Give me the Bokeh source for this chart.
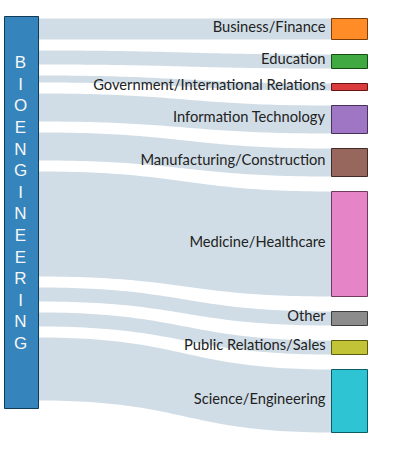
import numpy as np
from bokeh.plotting import figure
from bokeh.models import Range1d
from bokeh.embed import file_html
from bokeh.resources import INLINE
from bokeh.core.properties import value

# ---- data ----
source_name = "BIOENGINEERING"
targets = ["Business/Finance", "Education", "Government/International Relations",
           "Information Technology", "Manufacturing/Construction", "Medicine/Healthcare",
           "Other", "Public Relations/Sales", "Science/Engineering"]
counts = [3, 2, 1, 4, 4, 15, 2, 2, 9]
target_colors = ["#ff7f0e", "#2ca02c", "#d62728", "#9467bd", "#8c564b",
                 "#e377c2", "#7f7f7f", "#bcbd22", "#17becf"]
source_color = "#1f77b4"

# ---- layout parameters (pixels) ----
W, H = 387, 444
PAGE_X0, PAGE_Y0 = 0, 0
K = 7.0
RIGHT_TOP, RIGHT_GAP = 18.0, 15.0
LEFT_TOP, LEFT_GAP = 18.0, 11.0
LEFT_X0, LEFT_X1 = 4.0, 38.0
RIGHT_X0, RIGHT_X1 = 331.0, 367.0
NODE_TOP, NODE_BOT = 16.0, 408.0
LINK_COLOR = "#d1dde6"


def darker(hexc, f=0.49):
    h = hexc.lstrip("#")
    r, g, b = (int(h[i:i + 2], 16) for i in (0, 2, 4))
    return "#%02x%02x%02x" % (int(r * f), int(g * f), int(b * f))


p = figure(width=W, height=H, output_backend="svg", toolbar_location=None,
           x_range=Range1d(PAGE_X0, PAGE_X0 + W), y_range=Range1d(PAGE_Y0 + H, PAGE_Y0),
           min_border=0, outline_line_color=None, background_fill_color="white")
p.axis.visible = False
p.grid.visible = False

# stacking
hs = [c * K for c in counts]
r_tops, l_tops = [], []
ry, ly = RIGHT_TOP, LEFT_TOP
for h in hs:
    r_tops.append(ry)
    l_tops.append(ly)
    ry += h + RIGHT_GAP
    ly += h + LEFT_GAP

t = np.linspace(0, 1, 60)


def bez(x0, y0, x1, y1):
    xm = (x0 + x1) / 2
    xs = (1 - t) ** 3 * x0 + 3 * (1 - t) ** 2 * t * xm + 3 * (1 - t) * t ** 2 * xm + t ** 3 * x1
    ys = (1 - t) ** 3 * y0 + 3 * (1 - t) ** 2 * t * y0 + 3 * (1 - t) * t ** 2 * y1 + t ** 3 * y1
    return xs, ys

px, py = [], []
for h, lt, rt in zip(hs, l_tops, r_tops):
    x_top, y_top = bez(LEFT_X1, lt, RIGHT_X0, rt)
    x_bot, y_bot = bez(LEFT_X1, lt + h, RIGHT_X0, rt + h)
    px.append(list(x_top) + list(x_bot[::-1]))
    py.append(list(y_top) + list(y_bot[::-1]))
p.patches(px, py, fill_color=LINK_COLOR, line_color=None)

# nodes
p.quad(left=[LEFT_X0], right=[LEFT_X1], top=[NODE_TOP], bottom=[NODE_BOT],
       fill_color=source_color, fill_alpha=0.9, line_color=darker(source_color), line_width=1)
p.quad(left=[RIGHT_X0] * len(hs), right=[RIGHT_X1] * len(hs), top=r_tops,
       bottom=[rt + h for rt, h in zip(r_tops, hs)],
       fill_color=target_colors, fill_alpha=0.9,
       line_color=[darker(c) for c in target_colors], line_width=1)

# labels
p.text(x=[RIGHT_X0 - 6] * len(hs), y=[rt + h / 2 - 3.5 for rt, h in zip(r_tops, hs)], text=targets,
       text_align="right", text_baseline="middle", text_font=value("Lato"),
       text_font_size="14.7px", text_color="#222222")

letters = list(source_name)
spacing = 21.6
mid = (NODE_TOP + NODE_BOT) / 2 - 9.5
ys = [mid + (i - (len(letters) - 1) / 2) * spacing for i in range(len(letters))]
p.text(x=[(LEFT_X0 + LEFT_X1) / 2 - 1] * len(letters), y=ys, text=letters,
       text_align="center", text_baseline="middle", text_font=value("Liberation Sans"),
       text_font_size="17px", text_color="#f4f7fa")

open("out.html", "w").write(file_html(p, INLINE))
